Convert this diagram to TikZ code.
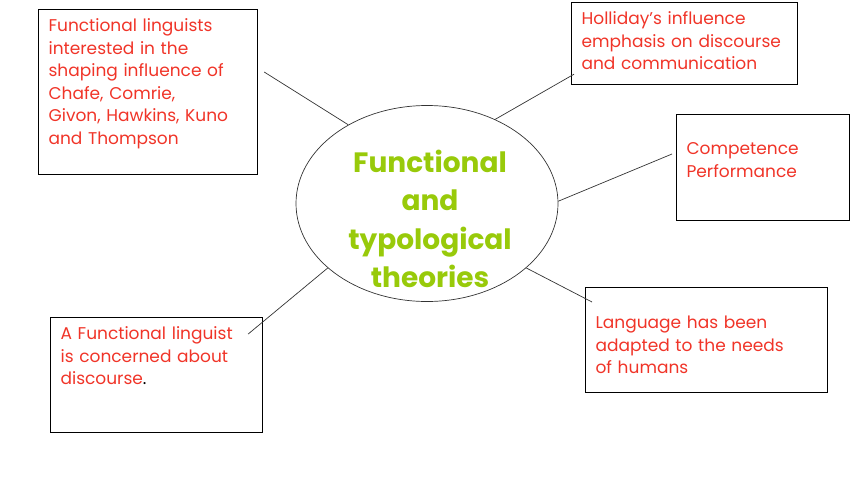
\documentclass[tikz,border=0pt]{standalone}
\usepackage{fontspec}
\setmainfont{Poppins}
\usepackage{xcolor}
\usetikzlibrary{shapes.geometric,positioning,calc}
\definecolor{notered}{RGB}{240,52,40}
\definecolor{titlegreen}{RGB}{152,202,10}

\begin{document}
\begin{tikzpicture}[
    x=1pt, y=-1pt,
    topic/.style={ellipse, draw=black!80, line width=0.7pt, minimum width=262pt, minimum height=196pt, inner sep=0pt},
    heading/.style={align=center, text=titlegreen, font=\bfseries\fontsize{28}{38.5}\selectfont},
    idea/.style={rectangle, draw, line width=1.2pt, anchor=north west, align=left, inner xsep=10pt, inner ysep=0pt, text height=22pt, text=notered, font=\fontsize{17}{22.5}\selectfont},
    spoke/.style={draw=black!80, line width=0.7pt},
]
\useasboundingbox (0,0) rectangle (851,498);

% Centre
\node[topic] (theory) at (427,203.5) {};
\node[heading] (title) at (430,219) {Functional\\and\\typological\\theories};

% Boxes
\node[idea, text width=199pt, text depth=143pt] (linguists) at (38,9) {Functional linguists\\interested in the\\shaping influence of\\Chafe, Comrie,\\Givon, Hawkins, Kuno\\and Thompson};
\node[idea, text width=206pt, text depth=60pt] (holliday) at (571,2) {Holliday's influence\\emphasis on discourse\\and communication};
\node[idea, text width=153pt, text height=40pt, text depth=66pt] (competence) at (676,114) {Competence\\Performance};
\node[idea, text width=222pt, text height=41pt, text depth=64pt] (language) at (585,287) {Language has been\\adapted to the needs\\of humans};
\node[idea, text width=192pt, text depth=93pt] (concerned) at (50,317) {A Functional linguist\\is concerned about\\discourse{\color{black}.}};

% Lines
\draw[spoke] (theory.135) -- ($(linguists.north east)+(6,63)$);
\draw[spoke] (theory.51) -- ($(holliday.south west)+(3,-11)$);
\draw[spoke] (theory.1) -- ($(competence.north west)+(-4,40)$);
\draw[spoke] (theory.-33) -- ($(language.north west)+(7,15)$);
\draw[spoke] (theory.213) -- ($(concerned.north east)+(-15,17)$);

\end{tikzpicture}
\end{document}
